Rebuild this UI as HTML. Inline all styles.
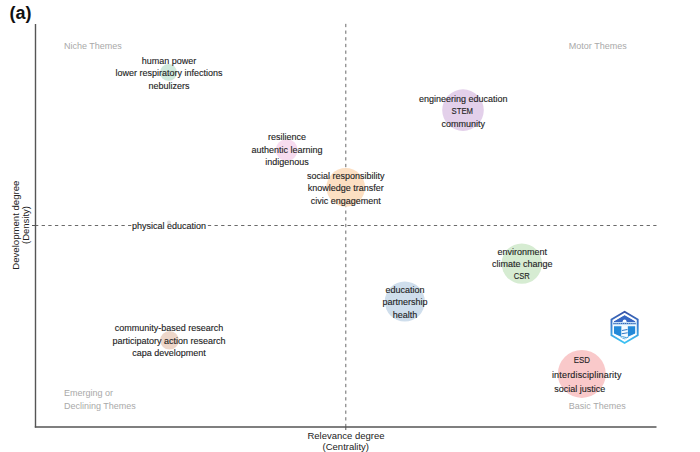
<!DOCTYPE html>
<html><head><meta charset="utf-8">
<style>
html,body{margin:0;padding:0;background:#fff;}
body{width:700px;height:452px;overflow:hidden;position:relative;}
svg{position:absolute;left:0;top:0;}
text{font-family:"Liberation Sans",sans-serif;}
.l{font-size:9px;fill:#222;stroke:#222;stroke-width:0.12px;}
.q{font-size:9px;fill:#a9a9a9;}
.ax{font-size:9.5px;fill:#222;}
</style></head>
<body>
<svg width="700" height="452" viewBox="0 0 700 452">
  <!-- dashed lines -->
  <line x1="345.8" y1="23.85" x2="345.8" y2="427" stroke="#6a6a6a" stroke-width="1" stroke-dasharray="3.3 3.367"/>
  <line x1="35" y1="225.5" x2="656.5" y2="225.5" stroke="#6a6a6a" stroke-width="1" stroke-dasharray="3.3 3.348"/>
  <rect x="132" y="220.5" width="74.5" height="9.5" fill="#fff"/>

  <!-- bubbles -->
  <circle cx="168.5" cy="72.5" r="8.5" fill="#cfe9dd"/>
  <circle cx="286.7" cy="150" r="10.8" fill="#f7dcef"/>
  <circle cx="345.7" cy="187.4" r="19.3" fill="#fcdfc2"/>
  <circle cx="463" cy="110.1" r="20.8" fill="#e3d0ea"/>
  <circle cx="169" cy="222.5" r="2" fill="#dddddd"/>
  <circle cx="169.5" cy="340.3" r="9.3" fill="#edd6c9"/>
  <circle cx="404.8" cy="301.5" r="20" fill="#cfdeec"/>
  <circle cx="521.8" cy="263.6" r="20.2" fill="#d6ecd2"/>
  <circle cx="581.8" cy="373.9" r="24" fill="#f9c9ca"/>

  <!-- axes -->
  <line x1="35.5" y1="24" x2="35.5" y2="427.5" stroke="#555" stroke-width="1.4"/>
  <line x1="34.8" y1="427" x2="656.5" y2="427" stroke="#555" stroke-width="1.4"/>
  <line x1="32" y1="225.5" x2="35.5" y2="225.5" stroke="#555" stroke-width="1"/>
  <line x1="345.8" y1="427" x2="345.8" y2="430" stroke="#555" stroke-width="1"/>

  <!-- (a) -->
  <text x="9.5" y="18.6" style="font-family:'Liberation Sans',sans-serif;font-weight:bold;font-size:18px;fill:#111">(a)</text>

  <!-- quadrant labels -->
  <text class="q" x="64" y="49.4">Niche Themes</text>
  <text class="q" x="568.8" y="49.4">Motor Themes</text>
  <text class="q" x="64" y="396">Emerging or</text>
  <text class="q" x="64" y="408.5">Declining Themes</text>
  <text class="q" x="568.8" y="408.7">Basic Themes</text>

  <!-- labels -->
  <g class="l" text-anchor="middle">
    <text x="169" y="63.7">human power</text>
    <text x="169" y="76.2">lower respiratory infections</text>
    <text x="169" y="88.8">nebulizers</text>

    <text x="287" y="139.9">resilience</text>
    <text x="287" y="152.9">authentic learning</text>
    <text x="287" y="165.1">indigenous</text>

    <text x="345.8" y="178.5">social responsibility</text>
    <text x="345.8" y="191.3">knowledge transfer</text>
    <text x="345.8" y="203.6">civic engagement</text>

    <text x="463.3" y="101.8">engineering education</text>
    <text x="462.3" y="114.1" textLength="21.5" lengthAdjust="spacingAndGlyphs">STEM</text>
    <text x="463.3" y="126.9">community</text>

    <text x="169.1" y="228.5">physical education</text>

    <text x="169" y="331.3">community-based research</text>
    <text x="169" y="343.7">participatory action research</text>
    <text x="169" y="356.3">capa development</text>

    <text x="405" y="293">education</text>
    <text x="405" y="305.4">partnership</text>
    <text x="405" y="317.9">health</text>

    <text x="522.3" y="254.6">environment</text>
    <text x="522.3" y="267">climate change</text>
    <text x="521.8" y="279" textLength="16" lengthAdjust="spacingAndGlyphs">CSR</text>

    <text x="581.9" y="363" textLength="16.2" lengthAdjust="spacingAndGlyphs">ESD</text>
    <text x="586.7" y="378" textLength="69.5" lengthAdjust="spacing">interdisciplinarity</text>
    <text x="579.8" y="391.6">social justice</text>
  </g>

  <!-- axis titles -->
  <g class="ax" text-anchor="middle">
    <text x="346" y="439">Relevance degree</text>
    <text x="345.8" y="449.5">(Centrality)</text>
    <text transform="translate(19,225.2) rotate(-90)" x="0" y="0" style="font-size:9.6px">Development degree</text>
    <text transform="translate(29,225) rotate(-90)" x="0" y="0">(Density)</text>
  </g>

  <!-- logo -->
  <defs>
    <linearGradient id="og" x1="0" y1="0" x2="0" y2="1">
      <stop offset="0" stop-color="#3854a8"/>
      <stop offset="0.4" stop-color="#3b7bcc"/>
      <stop offset="1" stop-color="#3cc4f4"/>
    </linearGradient>
    <clipPath id="ih"><polygon points="0,-12.4 10.7,-6.2 10.7,6.2 0,12.4 -10.7,6.2 -10.7,-6.2"/></clipPath>
  </defs>
  <g transform="translate(624.6,327.4)">
    <polygon points="0,-15.6 13.1,-7.9 13.1,7.9 0,15.6 -13.1,7.9 -13.1,-7.9" fill="#fff" stroke="url(#og)" stroke-width="1.9"/>
    <g clip-path="url(#ih)">
      <rect x="-12" y="-13" width="24" height="26" fill="#eef8fd"/>
      <polygon points="0,-12.4 12,-5.5 -12,-5.5" fill="#3767c3"/>
      <ellipse cx="0" cy="-6.2" rx="1.9" ry="1.8" fill="#ffffff"/>
      <polygon points="-12,-1.2 -3.2,-1.2 -3.2,9.4 -12,5.6" fill="#2389d8"/>
      <polygon points="3.2,-1.2 12,-1.2 12,5.6 3.2,9.4" fill="#2389d8"/>
      <polygon points="-2.6,-1.2 2.6,-1.2 3.2,8.6 -3.2,8.6" fill="#f4faff"/>
      <path d="M-2.6,2.6 L2.8,1.6 L2.9,2.7 L-2.7,3.7 Z" fill="#2f78c6"/>
      <path d="M-2.9,5.8 L3,4.8 L3.1,5.9 L-3,6.9 Z" fill="#2f78c6"/>
      <path d="M-4,9.8 Q-2,8.8 0,9.8 T4,9.8" fill="none" stroke="#2b8fd4" stroke-width="0.9"/>
      <path d="M-2.5,11.5 Q-1.2,10.7 0,11.5 T2.5,11.5" fill="none" stroke="#2b8fd4" stroke-width="0.8"/>
    </g>
    <rect x="-12.2" y="-5.2" width="24.4" height="2.7" fill="#b9d8f3"/>
    <line x1="-11.2" y1="-3.85" x2="11.2" y2="-3.85" stroke="#3366b8" stroke-width="1.1" stroke-dasharray="1.3 0.6"/>
  </g>
</svg>
</body></html>
